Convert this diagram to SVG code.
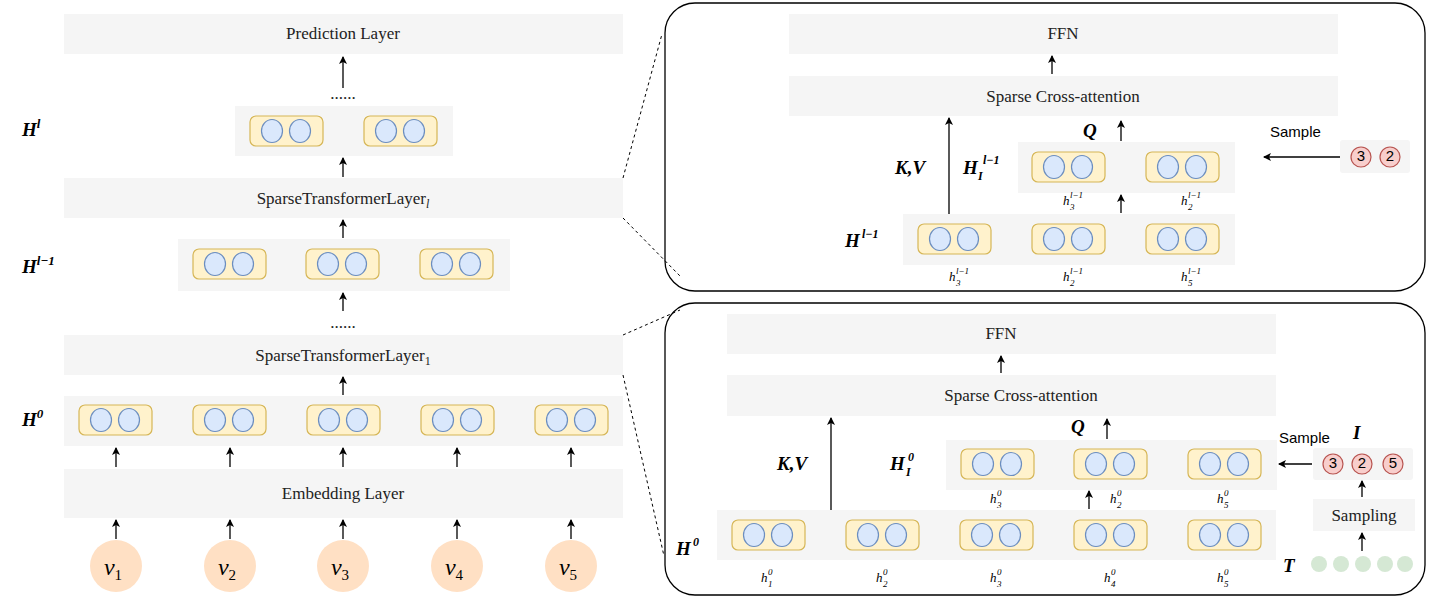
<svg xmlns="http://www.w3.org/2000/svg" width="1440" height="606" viewBox="0 0 1440 606">
<style>
.bar{fill:#f5f5f5}
.pill{fill:#fff2cc;stroke:#d6b656;stroke-width:1.2}
.dot{fill:#dae8fc;stroke:#6c8ebf;stroke-width:1.2}
.red{fill:#f8cecc;stroke:#b85450;stroke-width:1.2}
.t{font-family:"Liberation Serif",serif;font-size:17px;fill:#222;text-anchor:middle}
.m{font-family:"Liberation Serif",serif;font-size:19px;font-weight:bold;font-style:italic;fill:#000}
.sp{font-family:"Liberation Serif",serif;font-size:12px;font-weight:bold;font-style:italic;fill:#000}
.s{font-family:"Liberation Serif",serif;font-size:13px;font-style:italic;fill:#000}
.ss{font-family:"Liberation Serif",serif;font-size:9px;font-style:italic;fill:#000}
.v{font-family:"Liberation Serif",serif;font-size:24px;font-style:italic;fill:#000;text-anchor:middle}
.a{font-family:"Liberation Sans",sans-serif;font-size:15px;fill:#000}
.ln{stroke:#000;stroke-width:1.3;fill:none;marker-end:url(#ah)}
.ds{stroke:#000;stroke-width:1;stroke-dasharray:3 3;fill:none}
.panel{fill:#fff;stroke:#000;stroke-width:1.3}
</style>
<defs>
<marker id="ah" markerWidth="8" markerHeight="8" refX="7" refY="4" orient="auto" markerUnits="userSpaceOnUse"><path d="M0,0 L8,4 L0,8 L2,4 Z" fill="#000"/></marker>
<g id="P"><rect class="pill" x="0" y="0" width="73" height="30" rx="6"/><ellipse class="dot" cx="22" cy="15" rx="10.5" ry="11.5"/><ellipse class="dot" cx="50" cy="15" rx="10.5" ry="11.5"/></g>
</defs>
<rect width="1440" height="606" fill="#fff"/>
<rect class="panel" x="665" y="3" width="760" height="288" rx="30"/>
<rect class="panel" x="665" y="303" width="760" height="292" rx="30"/>

<g id="left">
<g id="pred"><rect class="bar" x="64" y="14" width="559" height="40"/><text class="t" x="343" y="39">Prediction Layer</text></g>
<text class="t" x="343" y="99">......</text>
<g id="Hl"><rect class="bar" x="235" y="106" width="218" height="50"/><use href="#P" x="250" y="116"/><use href="#P" x="364" y="116"/></g>
<g id="stl"><rect class="bar" x="64" y="178" width="559" height="40"/><text class="t" x="343" y="204">SparseTransformerLayer<tspan font-size="12" font-style="italic" dy="4">l</tspan></text></g>
<g id="Hl1"><rect class="bar" x="178" y="239" width="332" height="52"/><use href="#P" x="193" y="249"/><use href="#P" x="306" y="249"/><use href="#P" x="420" y="249"/></g>
<text class="t" x="343" y="328">......</text>
<g id="st1"><rect class="bar" x="64" y="335" width="559" height="40"/><text class="t" x="343" y="361">SparseTransformerLayer<tspan font-size="12" dy="4">1</tspan></text></g>
<g id="H0"><rect class="bar" x="64" y="396" width="559" height="50"/><use href="#P" x="79" y="405"/><use href="#P" x="193" y="405"/><use href="#P" x="307" y="405"/><use href="#P" x="421" y="405"/><use href="#P" x="535" y="405"/></g>
<g id="emb"><rect class="bar" x="64" y="469" width="559" height="49"/><text class="t" x="343" y="499">Embedding Layer</text></g>
<g id="vs" fill="#ffe0c4">
<circle cx="116" cy="566" r="26"/><circle cx="230" cy="566" r="26"/><circle cx="343" cy="566" r="26"/><circle cx="457" cy="566" r="26"/><circle cx="571" cy="566" r="26"/>
<text class="v" x="113" y="575">v<tspan font-size="15" font-style="normal" dy="5">1</tspan></text>
<text class="v" x="227" y="575">v<tspan font-size="15" font-style="normal" dy="5">2</tspan></text>
<text class="v" x="340" y="575">v<tspan font-size="15" font-style="normal" dy="5">3</tspan></text>
<text class="v" x="454" y="575">v<tspan font-size="15" font-style="normal" dy="5">4</tspan></text>
<text class="v" x="568" y="575">v<tspan font-size="15" font-style="normal" dy="5">5</tspan></text>
</g>
<text class="m" x="22" y="136">H<tspan font-size="13" dy="-8">l</tspan></text>
<text class="m" x="22" y="273">H<tspan font-size="13" dy="-8">l−1</tspan></text>
<text class="m" x="22" y="426">H<tspan font-size="13" dy="-8">0</tspan></text>
</g>

<g id="top">
<g id="tffn"><rect class="bar" x="789" y="14" width="549" height="40"/><text class="t" x="1063" y="39">FFN</text></g>
<g id="tsca"><rect class="bar" x="789" y="76" width="549" height="40"/><text class="t" x="1063" y="102">Sparse Cross-attention</text></g>
<g id="tHI"><rect class="bar" x="1018" y="142" width="217" height="51"/><use href="#P" x="1032" y="152"/><use href="#P" x="1146" y="152"/></g>
<g id="tH"><rect class="bar" x="903" y="214" width="332" height="51"/><use href="#P" x="918" y="224"/><use href="#P" x="1032" y="224"/><use href="#P" x="1146" y="224"/></g>
<g id="tsamp"><rect class="bar" x="1340" y="140" width="70" height="33" rx="3"/><circle class="red" cx="1361" cy="157" r="10"/><circle class="red" cx="1390" cy="157" r="10"/>
<text class="a" font-size="12" text-anchor="middle" x="1361" y="161">3</text><text class="a" font-size="12" text-anchor="middle" x="1390" y="161">2</text></g>
<text class="a" x="1270" y="137">Sample</text>
<text class="m" x="895" y="174">K,V</text>
<text class="m" x="1083" y="137">Q</text>
<text class="m" x="963" y="174">H</text><text class="sp" x="983" y="164">l−1</text><text class="sp" x="978" y="180">I</text>
<text class="m" x="845" y="247">H</text><text class="sp" x="862" y="238">l−1</text>
<g id="hlabels">
<text class="s" x="1063" y="205">h</text><text class="ss" x="1070" y="198">l−1</text><text class="ss" x="1070" y="210">3</text>
<text class="s" x="1181" y="205">h</text><text class="ss" x="1188" y="198">l−1</text><text class="ss" x="1188" y="210">2</text>
<text class="s" x="949" y="281">h</text><text class="ss" x="956" y="274">l−1</text><text class="ss" x="956" y="286">3</text>
<text class="s" x="1063" y="281">h</text><text class="ss" x="1070" y="274">l−1</text><text class="ss" x="1070" y="286">2</text>
<text class="s" x="1181" y="281">h</text><text class="ss" x="1188" y="274">l−1</text><text class="ss" x="1188" y="286">5</text>
</g>
</g>

<g id="bottom">
<g id="bffn"><rect class="bar" x="727" y="314" width="549" height="40"/><text class="t" x="1001" y="339">FFN</text></g>
<g id="bsca"><rect class="bar" x="727" y="375" width="549" height="41"/><text class="t" x="1021" y="401">Sparse Cross-attention</text></g>
<g id="bHI"><rect class="bar" x="946" y="440" width="331" height="50"/><use href="#P" x="961" y="449"/><use href="#P" x="1074" y="449"/><use href="#P" x="1188" y="449"/></g>
<g id="bH"><rect class="bar" x="717" y="510" width="559" height="50"/><use href="#P" x="732" y="520"/><use href="#P" x="846" y="520"/><use href="#P" x="960" y="520"/><use href="#P" x="1074" y="520"/><use href="#P" x="1188" y="520"/></g>
<g id="bsamp"><rect class="bar" x="1313" y="448" width="100" height="32" rx="3"/><circle class="red" cx="1333" cy="464" r="10"/><circle class="red" cx="1362" cy="464" r="10"/><circle class="red" cx="1393" cy="464" r="10"/>
<text class="a" font-size="12" text-anchor="middle" x="1333" y="468">3</text><text class="a" font-size="12" text-anchor="middle" x="1362" y="468">2</text><text class="a" font-size="12" text-anchor="middle" x="1393" y="468">5</text></g>
<g id="sampling"><rect class="bar" x="1313" y="499" width="102" height="32"/><text class="t" x="1364" y="521">Sampling</text></g>
<g id="T" fill="#d5e8d4"><circle cx="1319" cy="564" r="8"/><circle cx="1341" cy="564" r="8"/><circle cx="1363" cy="564" r="8"/><circle cx="1385" cy="564" r="8"/><circle cx="1405" cy="564" r="8"/></g>
<text class="m" x="1283" y="572">T</text>
<text class="a" x="1279" y="443">Sample</text>
<text class="m" x="1353" y="439">I</text>
<text class="m" x="777" y="470">K,V</text>
<text class="m" x="1071" y="433">Q</text>
<text class="m" x="890" y="470">H</text><text class="sp" x="908" y="461">0</text><text class="sp" x="906" y="476">I</text>
<text class="m" x="676" y="555">H</text><text class="sp" x="693" y="546">0</text>
<g id="h0labels">
<text class="s" x="990" y="503">h</text><text class="ss" x="997" y="496">0</text><text class="ss" x="997" y="508">3</text>
<text class="s" x="1110" y="503">h</text><text class="ss" x="1117" y="496">0</text><text class="ss" x="1117" y="508">2</text>
<text class="s" x="1217" y="503">h</text><text class="ss" x="1224" y="496">0</text><text class="ss" x="1224" y="508">5</text>
<text class="s" x="761" y="582">h</text><text class="ss" x="768" y="575">0</text><text class="ss" x="768" y="587">1</text>
<text class="s" x="876" y="582">h</text><text class="ss" x="883" y="575">0</text><text class="ss" x="883" y="587">2</text>
<text class="s" x="990" y="582">h</text><text class="ss" x="997" y="575">0</text><text class="ss" x="997" y="587">3</text>
<text class="s" x="1104" y="582">h</text><text class="ss" x="1111" y="575">0</text><text class="ss" x="1111" y="587">4</text>
<text class="s" x="1217" y="582">h</text><text class="ss" x="1224" y="575">0</text><text class="ss" x="1224" y="587">5</text>
</g>
</g>

<g id="connectors">
<path class="ln" d="M343,88 V57"/>
<path class="ln" d="M343,177 V158"/>
<path class="ln" d="M343,238 V220"/>
<path class="ln" d="M343,311 V293"/>
<path class="ln" d="M343,395 V377"/>
<path class="ln" d="M116,467 V448"/><path class="ln" d="M230,467 V448"/><path class="ln" d="M343,467 V448"/><path class="ln" d="M457,467 V448"/><path class="ln" d="M571,467 V448"/>
<path class="ln" d="M116,539 V520"/><path class="ln" d="M230,539 V520"/><path class="ln" d="M343,539 V520"/><path class="ln" d="M457,539 V520"/><path class="ln" d="M571,539 V520"/>
<path class="ln" d="M1052,74 V56"/>
<path class="ln" d="M949,214 V118"/>
<path class="ln" d="M1121,141 V121"/>
<path class="ln" d="M1121,213 V195"/>
<path class="ln" d="M1340,157 H1264"/>
<path class="ln" d="M1001,373 V356"/>
<path class="ln" d="M831,510 V418"/>
<path class="ln" d="M1107,439 V419"/>
<path class="ln" d="M1089,509 V491"/>
<path class="ln" d="M1312,464 H1279"/>
<path class="ln" d="M1362,497 V481"/>
<path class="ln" d="M1362,551 V533"/>
<path class="ds" d="M623,178 L662,34"/>
<path class="ds" d="M623,218 L680,276"/>
<path class="ds" d="M623,335 L680,310"/>
<path class="ds" d="M623,375 L664,556"/>
</g>
</svg>
